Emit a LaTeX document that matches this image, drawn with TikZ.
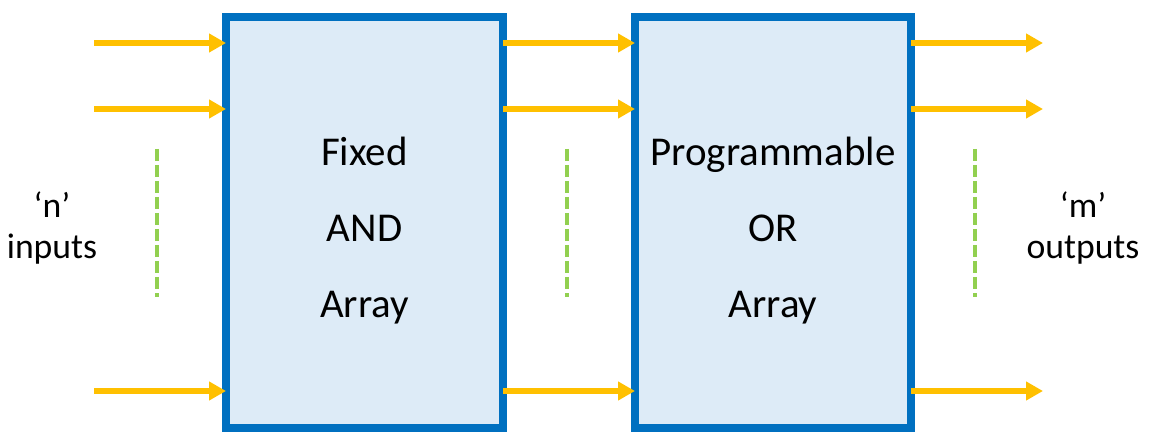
\documentclass[tikz,border=0pt]{standalone}
\usepackage{fontspec}
\setmainfont{Carlito}
\usetikzlibrary{arrows.meta}
\definecolor{boxblue}{HTML}{0070C0}
\definecolor{boxfill}{HTML}{DDEBF7}
\definecolor{sigyellow}{HTML}{FFC000}
\definecolor{gapgreen}{HTML}{92D050}

\begin{document}
\begin{tikzpicture}[>={Triangle[length=0.34cm,width=0.36cm]},
  array/.style={draw=boxblue,fill=boxfill,line width=0.16cm,outer sep=0pt,minimum height=8.23cm},
  arraytext/.style={align=center,font=\fontsize{23.3}{43.2}\selectfont},
  sig/.style={->,sigyellow,line width=0.12cm},
  gap/.style={gapgreen,line width=0.08cm,dash pattern=on 0.24cm off 0.08cm},
  side/.style={align=center,font=\fontsize{20.3}{23.8}\selectfont}]

\useasboundingbox (0,0) rectangle (23.14,8.86);

\node [array,minimum width=5.54cm] at (7.29,4.405) (andarr) {};
\node [array,minimum width=5.52cm] at (15.46,4.405) (orarr) {};

\node [arraytext] at ([yshift=-0.16cm]andarr.center) (andtext) {Fixed\\AND\\Array};
\node [arraytext] at ([yshift=-0.16cm]orarr.center) (ortext) {Programmable\\OR\\Array};

\coordinate (in1) at (1.88,8.0);
\coordinate (in2) at (1.88,6.68);
\coordinate (in3) at (1.88,1.04);
\coordinate (out1) at (20.86,8.0);
\coordinate (out2) at (20.86,6.68);
\coordinate (out3) at (20.86,1.04);

\draw [sig] (in1) to (andarr.west |- in1);
\draw [sig] (in2) to (andarr.west |- in2);
\draw [sig] (in3) to (andarr.west |- in3);

\draw [sig] (andarr.east |- in1) to (orarr.west |- in1);
\draw [sig] (andarr.east |- in2) to (orarr.west |- in2);
\draw [sig] (andarr.east |- in3) to (orarr.west |- in3);

\draw [sig] (orarr.east |- out1) to (out1);
\draw [sig] (orarr.east |- out2) to (out2);
\draw [sig] (orarr.east |- out3) to (out3);

\draw [gap] (3.14,5.88) -- (3.14,2.92);
\draw [gap] (11.34,5.88) -- (11.34,2.92);
\draw [gap] (19.5,5.88) -- (19.5,2.92);

\node [side] at (1.04,4.3) (nin) {‘n’\\inputs};
\node [side] at (21.66,4.3) (mout) {‘m’\\outputs};

\end{tikzpicture}
\end{document}
